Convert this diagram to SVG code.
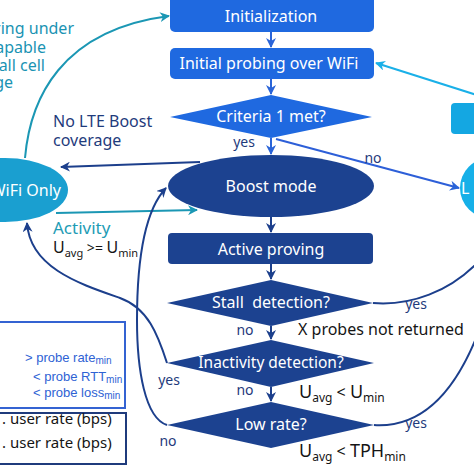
<svg xmlns="http://www.w3.org/2000/svg" width="474" height="474" viewBox="0 0 474 474">
<style>
text{font-family:"Noto Sans","Liberation Sans",sans-serif}
.bb{fill:#1f69e0}
.nv{fill:#1c4290}
.wt{fill:#fff;font-size:16px;text-anchor:middle}
.lbl{fill:#1f3b7c;font-size:14px;text-anchor:middle}
.teal{fill:#1a93b3;font-size:16px}
.blk{fill:#151515}
.sub{font-size:12px}
.bl{fill:#2e62d4;font-size:13px;font-family:"Liberation Sans",sans-serif}
.bsub{font-size:10px}
.ln{fill:none;stroke-width:2}
</style>
<defs>
<marker id="aBB" viewBox="0 0 10 10" refX="9" refY="5" markerWidth="10" markerHeight="10" markerUnits="userSpaceOnUse" orient="auto"><path d="M0,0 L10,5 L0,10 L3,5 z" fill="#2a64d8"/></marker>
<marker id="aNV" viewBox="0 0 10 10" refX="9" refY="5" markerWidth="10" markerHeight="10" markerUnits="userSpaceOnUse" orient="auto"><path d="M0,0 L10,5 L0,10 L3,5 z" fill="#1c3f8c"/></marker>
<marker id="aTL" viewBox="0 0 10 10" refX="9" refY="5" markerWidth="10" markerHeight="10" markerUnits="userSpaceOnUse" orient="auto"><path d="M0,0 L10,5 L0,10 L3,5 z" fill="#1b97b4"/></marker>
<marker id="aCY" viewBox="0 0 10 10" refX="9" refY="5" markerWidth="10" markerHeight="10" markerUnits="userSpaceOnUse" orient="auto"><path d="M0,0 L10,5 L0,10 L3,5 z" fill="#1ab0e8"/></marker>
</defs>

<g id="connectors">
<line class="ln" x1="271" y1="32" x2="271" y2="47" stroke="#2a64d8" marker-end="url(#aBB)"/>
<line class="ln" x1="271" y1="79" x2="271" y2="94" stroke="#2a64d8" marker-end="url(#aBB)"/>
<line class="ln" x1="271" y1="138" x2="271" y2="154" stroke="#2a64d8" marker-end="url(#aBB)"/>
<line class="ln" x1="271" y1="217" x2="271" y2="232" stroke="#1c3f8c" marker-end="url(#aNV)"/>
<line class="ln" x1="271" y1="264" x2="271" y2="279" stroke="#1c3f8c" marker-end="url(#aNV)"/>
<line class="ln" x1="271" y1="326" x2="271" y2="339" stroke="#1c3f8c" marker-end="url(#aNV)"/>
<line class="ln" x1="271" y1="387" x2="271" y2="401" stroke="#1c3f8c" marker-end="url(#aNV)"/>
<line class="ln" x1="276" y1="139" x2="459" y2="188" stroke="#2d5fd8" marker-end="url(#aBB)"/>
<line class="ln" x1="480" y1="96" x2="376" y2="63" stroke="#1ab0e8" marker-end="url(#aCY)"/>
<path class="ln" d="M25,158 C30,100 60,30 169,16" stroke="#1b97b4" marker-end="url(#aTL)"/>
<line class="ln" x1="200" y1="162" x2="61" y2="167" stroke="#1c3f8c" marker-end="url(#aNV)"/>
<line class="ln" x1="56" y1="213" x2="197" y2="210" stroke="#1b97b4" marker-end="url(#aTL)"/>
<path class="ln" d="M373,303 C410,306 450,292 480,260" stroke="#1c3f8c"/>
<path class="ln" d="M374,425 C420,428 455,395 480,328" stroke="#1c3f8c"/>
<path class="ln" d="M167,363 C158,335 148,308 120,298 C80,284 30,268 27,223" stroke="#1c3f8c" marker-end="url(#aNV)"/>
<path class="ln" d="M167,425 C145,418 137,370 137,320 C137,260 145,210 166,188" stroke="#1c3f8c" marker-end="url(#aNV)"/>
</g>

<g id="init"><rect class="bb" x="170" y="-4" width="204" height="36" rx="5"/><text class="wt" x="271" y="22">Initialization</text></g>
<g id="probing"><rect class="bb" x="170" y="48" width="204" height="31" rx="5"/><text class="wt" x="269" y="69">Initial probing over WiFi</text></g>
<g id="criteria"><polygon class="bb" points="170,117 271,95 372,117 271,138"/><text class="wt" x="271" y="122">Criteria 1 met?</text></g>
<g id="boost"><ellipse class="nv" cx="271" cy="186" rx="103" ry="31"/><text class="wt" x="271" y="192">Boost mode</text></g>
<g id="active"><rect class="nv" x="168" y="233" width="205" height="31" rx="4"/><text class="wt" x="271" y="255">Active proving</text></g>
<g id="stall"><polygon class="nv" points="167,303 271,280 373,303 271,326"/><text class="wt" x="271" y="308" xml:space="preserve">Stall  detection?</text></g>
<g id="inactivity"><polygon class="nv" points="167,363 271,340 374,363 271,387"/><text class="wt" x="271" y="368" style="font-size:15.5px">Inactivity detection?</text></g>
<g id="lowrate"><polygon class="nv" points="167,425 271,402 374,425 271,448"/><text class="wt" x="271" y="430">Low rate?</text></g>
<g id="wifi"><ellipse cx="5" cy="190" rx="63" ry="32" fill="#1a9fd0"/><text x="61" y="196" style="fill:#fff;font-size:16px;text-anchor:end">WiFi Only</text></g>
<g id="right-box"><rect x="451" y="103" width="40" height="31" rx="4" fill="#14a7e2"/></g>
<g id="right-circle"><circle cx="490" cy="188" r="30" fill="#16b0e8"/><text x="461" y="194" style="fill:#fff;font-size:16px">L</text></g>

<g id="labels">
<text class="lbl" x="244" y="147">yes</text>
<text class="lbl" x="373" y="163">no</text>
<text class="lbl" x="245" y="335">no</text>
<text class="lbl" x="245" y="395">no</text>
<text class="lbl" x="416" y="309">yes</text>
<text class="lbl" x="416" y="428">yes</text>
<text class="lbl" x="169" y="385">yes</text>
<text class="lbl" x="168" y="446">no</text>
<text class="blk" x="298" y="335" style="font-size:16px">X probes not returned</text>
<text class="blk" x="299" y="398" style="font-size:18px">U<tspan class="sub" dy="4">avg</tspan><tspan dy="-4" font-size="16"> &lt; </tspan>U<tspan class="sub" dy="4">min</tspan></text>
<text class="blk" x="299" y="457" style="font-size:18px">U<tspan class="sub" dy="4">avg</tspan><tspan dy="-4" font-size="16"> &lt; </tspan>TPH<tspan class="sub" dy="4">min</tspan></text>
<text style="fill:#1f3b7c;font-size:16px" x="53" y="127">No LTE Boost</text>
<text style="fill:#1f3b7c;font-size:16px" x="53" y="146">coverage</text>
<text style="fill:#1e9cb5;font-size:17px" x="53" y="234">Activity</text>
<text class="blk" x="53" y="253" style="font-size:16px">U<tspan font-size="11" dy="4">avg</tspan><tspan dy="-4" font-size="14"> &gt;= </tspan>U<tspan font-size="11" dy="4">min</tspan></text>
<text class="teal" x="74" y="34" text-anchor="end">ering under</text>
<text class="teal" x="46" y="53" text-anchor="end">apable</text>
<text class="teal" x="45" y="71" text-anchor="end">all cell</text>
<text class="teal" x="13" y="88" text-anchor="end">ge</text>
</g>

<g id="criteria-box">
<rect x="-10" y="322" width="135" height="86" fill="none" stroke="#3463d2" stroke-width="2"/>
<text class="bl" x="25" y="362">&gt; probe rate<tspan class="bsub" dy="2">min</tspan></text>
<text class="bl" x="33" y="381">&lt; probe RTT<tspan class="bsub" dy="2">min</tspan></text>
<text class="bl" x="33" y="397">&lt; probe loss<tspan class="bsub" dy="2">min</tspan></text>
</g>
<g id="rate-box">
<rect x="-10" y="413" width="136" height="51" fill="none" stroke="#1f3b7c" stroke-width="2"/>
<text class="blk" x="2" y="424" style="font-size:15px">. user rate (bps)</text>
<text class="blk" x="2" y="448" style="font-size:15px">. user rate (bps)</text>
</g>
</svg>
